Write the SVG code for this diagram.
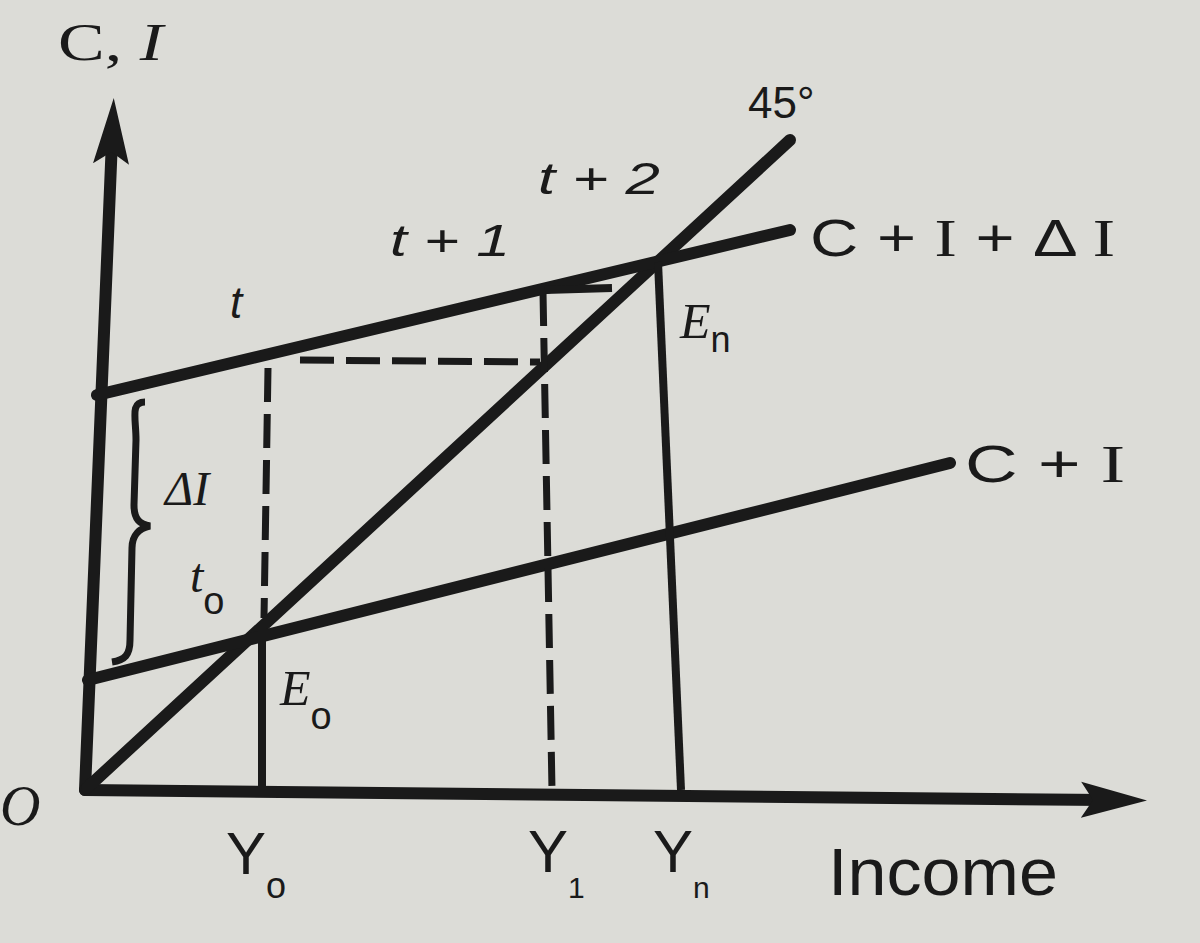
<svg xmlns="http://www.w3.org/2000/svg" width="1200" height="943" viewBox="0 0 1200 943">
<style>
.ln{stroke:#1a1a1a;stroke-width:12;stroke-linecap:round;fill:none}
.thin{stroke:#1a1a1a;stroke-width:8;fill:none}
.dash{stroke:#1a1a1a;stroke-width:7;fill:none;stroke-dasharray:34 12}
.lab{font-family:"Liberation Sans",Arial,sans-serif;fill:#1a1a1a}
.ser{font-family:"Liberation Serif","Times New Roman",serif}
.ital{font-family:"Liberation Serif","Times New Roman",serif;font-style:italic;fill:#1a1a1a}
.it{font-style:italic}
</style>
<defs>
<marker id="ah" markerWidth="7" markerHeight="4" refX="2" refY="1.6" orient="auto" markerUnits="strokeWidth">
<path d="M0,0.1 L5.5,1.6 L0,3.1 L1,1.6 Z" fill="#1a1a1a"/>
</marker>
</defs>
<rect width="1200" height="943" fill="#dcdcd7"/>
<g id="connectors">
<line id="y-axis" class="ln" x1="85" y1="790" x2="112" y2="140" marker-end="url(#ah)"/>
<line id="x-axis" class="ln" x1="85" y1="790" x2="1105" y2="800" marker-end="url(#ah)"/>
<line id="line45" class="ln" x1="87" y1="788" x2="790" y2="140"/>
<line id="ci" class="ln" x1="88" y1="680" x2="950" y2="463"/>
<line id="cidi" class="ln" x1="97" y1="395" x2="790" y2="230"/>
<line id="v-y0" class="thin" x1="262" y1="625" x2="262" y2="790"/>
<line id="vd-y0" class="dash" x1="268" y1="368" x2="264" y2="618"/>
<line id="hd-1" class="dash" x1="300" y1="360" x2="540" y2="362"/>
<line id="vd-y1" class="dash" x1="543" y1="292" x2="552" y2="790"/>
<line id="hd-2" class="thin" x1="545" y1="290" x2="612" y2="288"/>
<line id="v-yn" class="thin" x1="658" y1="262" x2="681" y2="790"/>
<path id="brace" d="M145,402 C130,402 136,418 136,440 L134,505 C134,520 140,524 150,526 C140,528 132,535 132,548 L130,640 C130,655 125,660 112,662" stroke="#1a1a1a" stroke-width="7" fill="none"/>
</g>
<g id="labels">
<text class="ser" x="58" y="60" font-size="52" fill="#1a1a1a" textLength="105" lengthAdjust="spacingAndGlyphs">C, <tspan class="it">I</tspan></text>
<text class="lab" x="748" y="118" font-size="44">45°</text>
<text class="lab it" x="538" y="194" font-size="44" textLength="122" lengthAdjust="spacingAndGlyphs">t + 2</text>
<text class="lab it" x="390" y="256" font-size="44" textLength="120" lengthAdjust="spacingAndGlyphs">t + 1</text>
<text class="lab it" x="230" y="318" font-size="44">t</text>
<text class="ital" x="680" y="338" font-size="50">E<tspan class="lab" font-style="normal" font-size="36" dy="14">n</tspan></text>
<text class="lab" x="810" y="256" font-size="52" textLength="305" lengthAdjust="spacingAndGlyphs">C + <tspan class="ser">I</tspan> + Δ <tspan class="ser">I</tspan></text>
<text class="lab" x="965" y="482" font-size="52" textLength="160" lengthAdjust="spacingAndGlyphs">C + <tspan class="ser">I</tspan></text>
<text class="ital" x="165" y="505" font-size="48">ΔI</text>
<text class="ital" x="190" y="592" font-size="48">t<tspan class="lab" font-style="normal" font-size="38" dy="22">o</tspan></text>
<text class="ital" x="280" y="705" font-size="50">E<tspan class="lab" font-style="normal" font-size="38" dy="24">o</tspan></text>
<text class="ital" x="0" y="825" font-size="56">O</text>
<text class="lab" x="226" y="874" font-size="60">Y<tspan font-size="36" dy="24">o</tspan></text>
<text class="lab" x="528" y="872" font-size="60">Y<tspan font-size="30" dy="26">1</tspan></text>
<text class="lab" x="653" y="872" font-size="60">Y<tspan font-size="30" dy="26">n</tspan></text>
<text class="lab" x="828" y="895" font-size="66" textLength="230" lengthAdjust="spacingAndGlyphs">Income</text>
</g>
</svg>
